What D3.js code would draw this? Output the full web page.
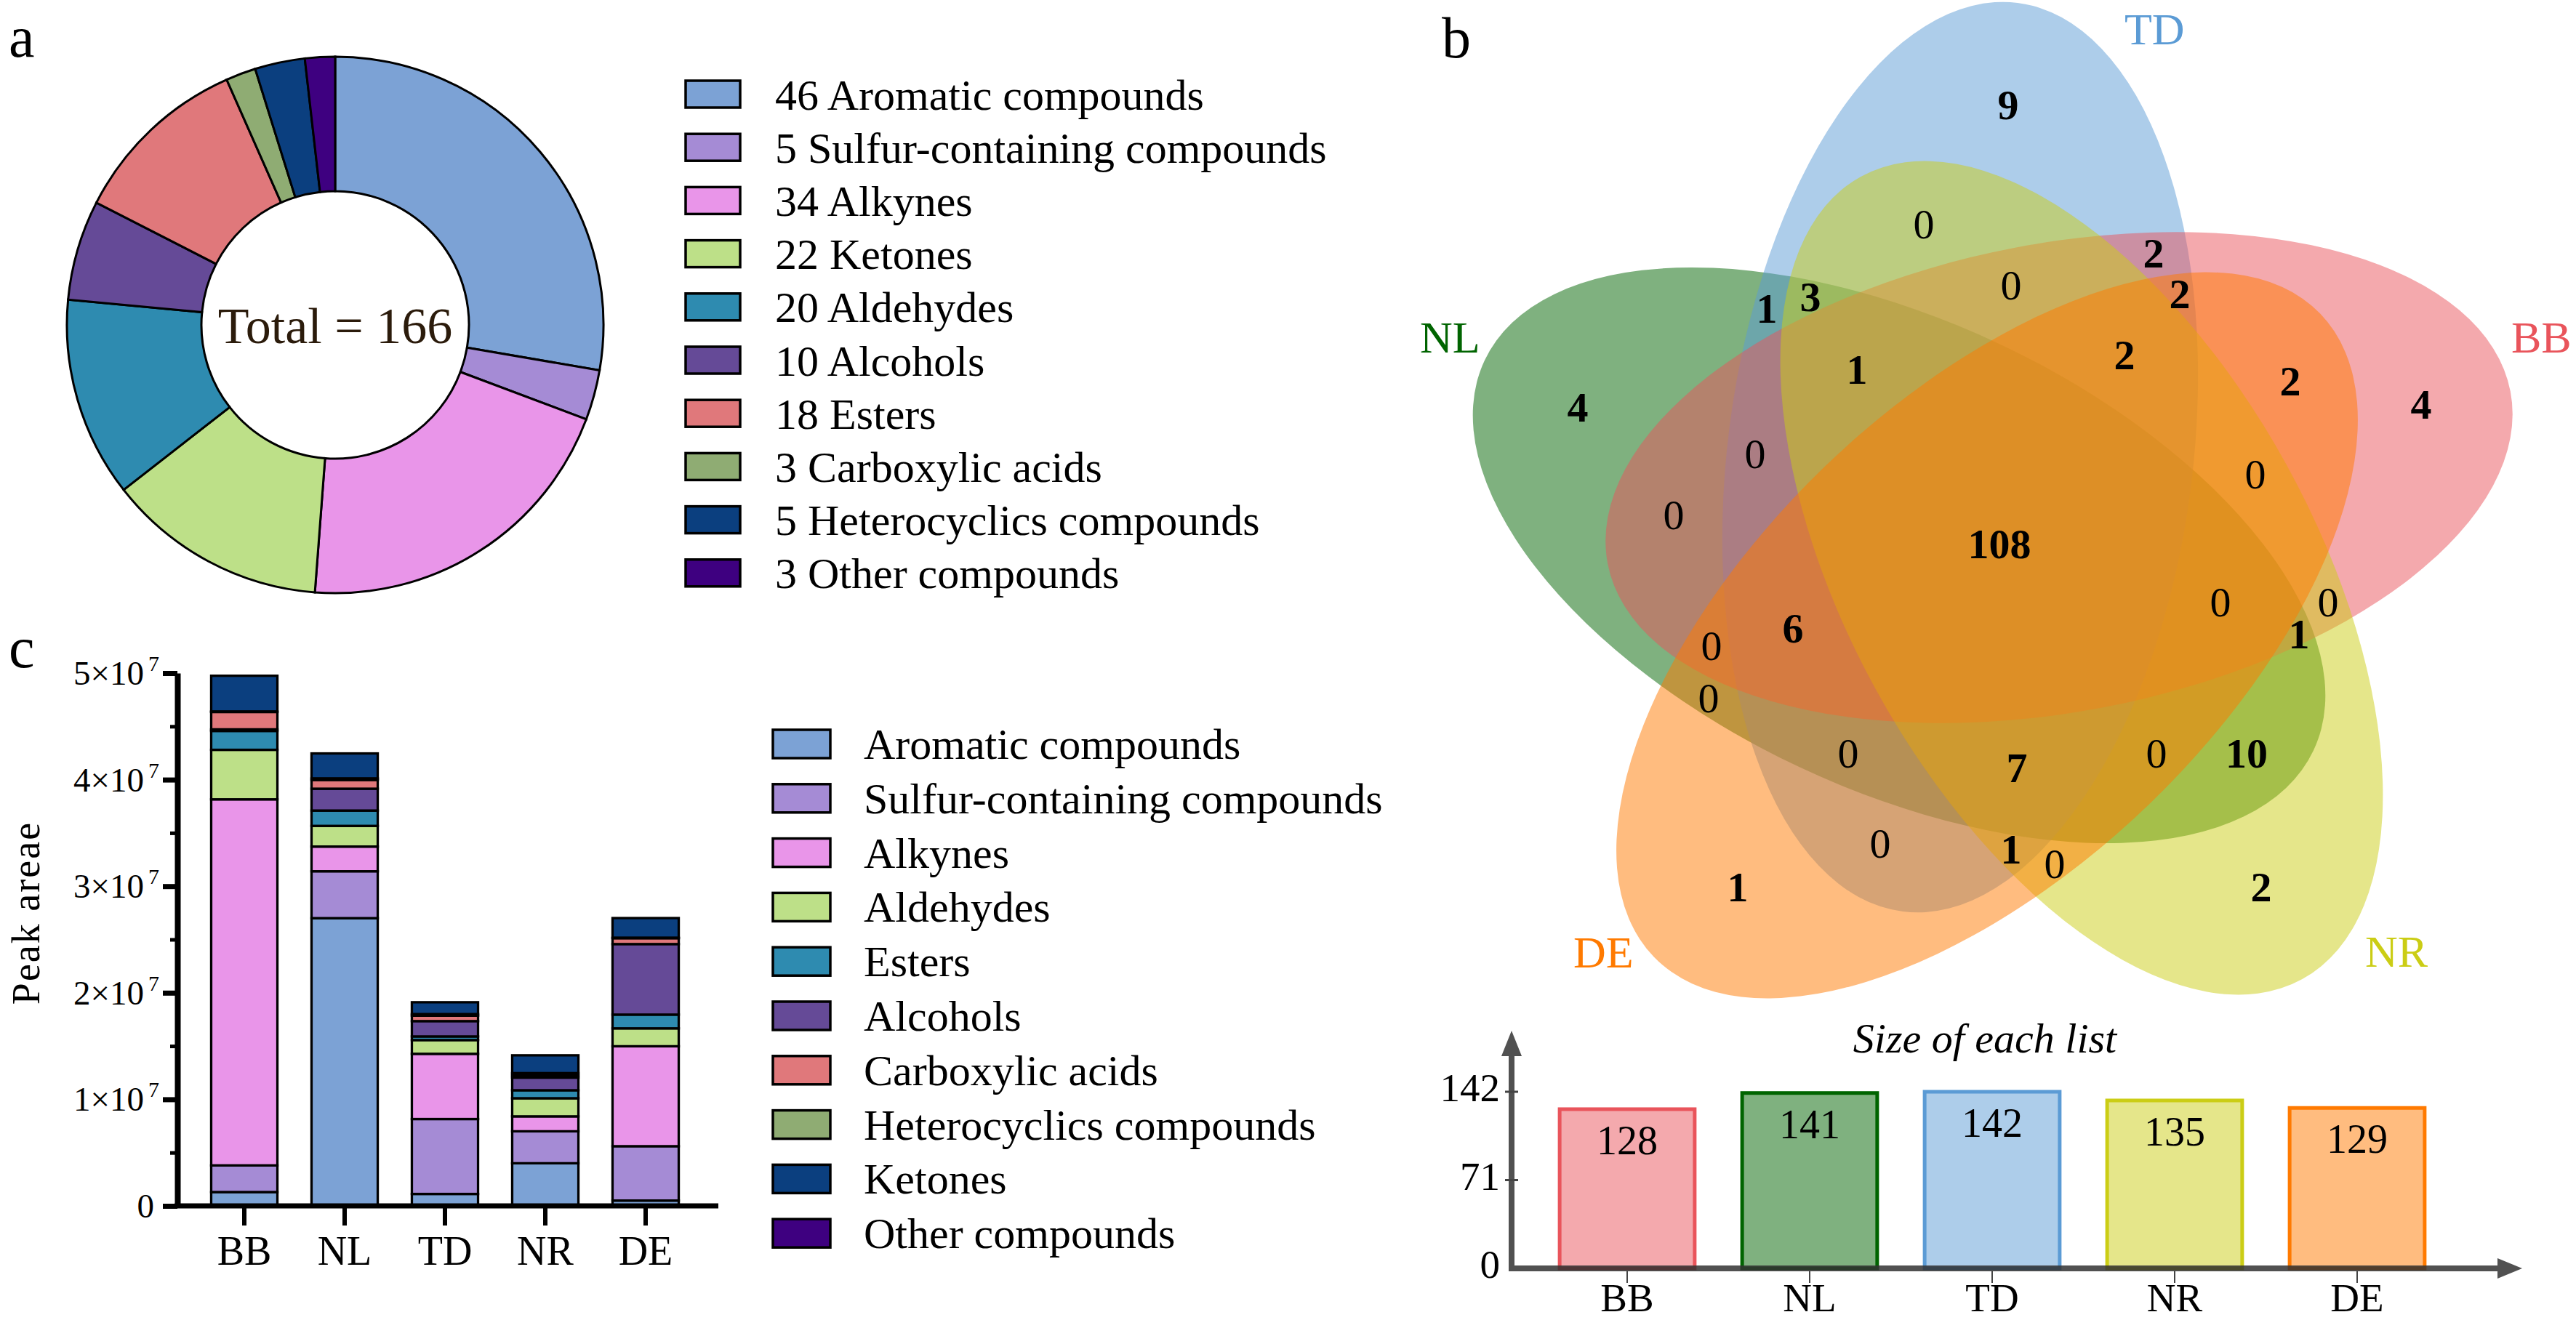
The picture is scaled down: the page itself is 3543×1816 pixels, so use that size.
<!DOCTYPE html>
<html lang="en">
<head>
<meta charset="UTF-8" />
<title>Volatile compounds</title>
<script src="https://d3js.org/d3.v7.min.js"></script>
<style>
  body { margin: 0; background: #fff; }
</style>
</head>
<body>
<div id="chart"></div>
<script>
const width = 3543, height = 1816;
const serif = "'Liberation Serif', 'Times New Roman', serif";

// shared class colours (same order in both legends)
const palette = ["#7ca2d5", "#a58bd5", "#e995e9", "#bde088", "#2e8bb0",
                 "#654a97", "#e0787b", "#8fac73", "#0b3f7f", "#3e0080"];

// panel a: number of compounds in each class
const classesA = ["Aromatic compounds", "Sulfur-containing compounds", "Alkynes", "Ketones",
                  "Aldehydes", "Alcohols", "Esters", "Carboxylic acids",
                  "Heterocyclics compounds", "Other compounds"];
const countsA = [46, 5, 34, 22, 20, 10, 18, 3, 5, 3];

// panel c: peak areas per sample, stacked in this class order
const samples = ["BB", "NL", "TD", "NR", "DE"];
const classesC = ["Aromatic compounds", "Sulfur-containing compounds", "Alkynes", "Aldehydes",
                  "Esters", "Alcohols", "Carboxylic acids", "Heterocyclics compounds",
                  "Ketones", "Other compounds"];
const peakBB = [0.13e7, 0.25e7, 3.435e7, 0.465e7, 0.177e7, 0.015e7, 0.163e7, 0.005e7, 0.335e7, 0];
const peakNL = [2.70e7, 0.44e7, 0.232e7, 0.194e7, 0.144e7, 0.205e7, 0.082e7, 0.015e7, 0.234e7, 0];
const peakTD = [0.112e7, 0.703e7, 0.612e7, 0.129e7, 0.034e7, 0.144e7, 0.051e7, 0.015e7, 0.111e7, 0];
const peakNR = [0.40e7, 0.30e7, 0.14e7, 0.17e7, 0.075e7, 0.119e7, 0.02e7, 0.022e7, 0.167e7, 0];
const peakDE = [0.05e7, 0.51e7, 0.938e7, 0.168e7, 0.129e7, 0.662e7, 0.055e7, 0.005e7, 0.184e7, 0];
const yTicksC = [0, 1e7, 2e7, 3e7, 4e7, 5e7];

// panel b: venn regions (sets joined in the order TD, BB, NR, DE, NL) and their counts
const vennOrder = ["TD", "BB", "NR", "DE", "NL"];
const regionKeys = ["TD", "TD&NR", "TD&BB&NR", "TD&BB", "TD&BB&DE", "TD&BB&NR&DE", "BB&DE", "BB",
                    "BB&NR&DE", "TD&BB&NR&DE&NL", "BB&NR", "BB&NR&NL", "BB&NR&DE&NL", "NR&NL",
                    "NR&DE&NL", "TD&NR&DE&NL", "TD&NR&DE", "NR&DE", "NR", "DE", "TD&DE",
                    "TD&DE&NL", "DE&NL", "BB&DE&NL", "TD&BB&DE&NL", "BB&NL", "TD&BB&NL", "NL",
                    "TD&NL", "TD&NR&NL", "TD&BB&NR&NL"];
const regionCounts = [9, 0, 0, 2, 2, 2, 2, 4, 0, 108, 0, 1, 0, 10, 0, 7, 1, 0, 2, 1, 0,
                      0, 0, 0, 6, 0, 0, 4, 1, 3, 1];
const listNames = ["BB", "NL", "TD", "NR", "DE"];
const listSizes = [128, 141, 142, 135, 129];
const listTicks = [0, 71, 142];

const setColors = { BB: "#e9545b", NL: "#006400", TD: "#5b9bd5", NR: "#cbcd15", DE: "#ff7a00" };

// ellipse layout of the five-set diagram
const geom = {
    TD: { cx: 2696, cy: 629, a: 630, b: 320, rot: -82.8 },
    BB: { cx: 2832, cy: 657, a: 632, b: 322, rot: -10.8 },
    NR: { cx: 2863, cy: 795, a: 630, b: 322, rot: 61.2 },
    DE: { cx: 2733, cy: 874, a: 637, b: 322, rot: 136 },
    NL: { cx: 2612, cy: 764, a: 630, b: 322, rot: 205.2 },
};
const drawOrder = ["NL", "TD", "BB", "NR", "DE"];
const setLabelPos = { TD: [2922, 61], BB: [3454, 485], NL: [1953, 485], DE: [2164, 1331], NR: [3253, 1330] };

const svg = d3.select("#chart").append("svg")
    .attr("width", width).attr("height", height)
    .attr("font-family", serif)
    .style("background", "#fff");

// panel letters
[["a", 12, 78], ["b", 1983, 79], ["c", 12, 918]].forEach(([t, x, y]) =>
    svg.append("text").attr("x", x).attr("y", y).attr("font-size", 80).text(t));

// ---------- panel a: donut ----------
const pie = d3.pie().sort(null);
const arc = d3.arc().innerRadius(184).outerRadius(369);
const gA = svg.append("g").attr("transform", "translate(461,447)");
gA.selectAll("path")
    .data(pie(countsA))
    .join("path")
    .attr("d", arc)
    .attr("fill", (d, i) => palette[i])
    .attr("stroke", "#000")
    .attr("stroke-width", 3);
gA.append("text")
    .attr("text-anchor", "middle")
    .attr("dy", "0.35em")
    .attr("font-size", 70)
    .attr("fill", "#2b1b0b")
    .text(`Total = ${d3.sum(countsA)}`);

const legA = svg.append("g");
legA.selectAll("rect")
    .data(countsA)
    .join("rect")
    .attr("x", 943)
    .attr("y", (d, i) => 111 + i * 73.2)
    .attr("width", 75)
    .attr("height", 37)
    .attr("fill", (d, i) => palette[i])
    .attr("stroke", "#000")
    .attr("stroke-width", 3.5);
legA.selectAll("text")
    .data(countsA)
    .join("text")
    .attr("x", 1066)
    .attr("y", (d, i) => 111 + i * 73.2 + 39.5)
    .attr("font-size", 60)
    .text((d, i) => `${d} ${classesA[i]}`);

// ---------- panel c: stacked bars ----------
const peakBySample = [peakBB, peakNL, peakTD, peakNR, peakDE];
const rows = samples.map((s, i) => {
    const o = { sample: s };
    classesC.forEach((c, j) => (o[c] = peakBySample[i][j]));
    return o;
});
const series = d3.stack().keys(classesC)(rows);

const xC = d3.scaleBand().domain(samples).range([267, 957]).paddingInner(0.34).paddingOuter(0.17);
const yC = d3.scaleLinear().domain([0, 5e7]).range([1659, 926]);

const gC = svg.append("g");
gC.selectAll("g.layer")
    .data(series)
    .join("g")
    .attr("class", "layer")
    .attr("fill", (d, i) => palette[i])
    .selectAll("rect")
    .data(d => d.filter(p => p[1] - p[0] > 0))
    .join("rect")
    .attr("x", d => xC(d.data.sample))
    .attr("width", xC.bandwidth())
    .attr("y", d => yC(d[1]))
    .attr("height", d => yC(d[0]) - yC(d[1]))
    .attr("stroke", "#000")
    .attr("stroke-width", 3.3);

// y axis with major and minor ticks
const axisX = 244;
svg.append("g")
    .attr("transform", `translate(${axisX},0)`)
    .call(d3.axisLeft(yC).tickValues(d3.range(0.5e7, 5e7, 1e7)).tickSize(10).tickSizeOuter(0).tickFormat(""))
    .call(g => g.select(".domain").remove())
    .call(g => g.selectAll(".tick line").attr("stroke", "#000").attr("stroke-width", 5));
svg.append("g")
    .attr("transform", `translate(${axisX},0)`)
    .call(d3.axisLeft(yC).tickValues(yTicksC).tickSize(20).tickSizeOuter(0).tickFormat(""))
    .call(g => g.select(".domain").attr("stroke", "#000").attr("stroke-width", 8))
    .call(g => g.selectAll(".tick line").attr("stroke", "#000").attr("stroke-width", 7));

const yLab = svg.append("g");
yTicksC.forEach(v => {
    const t = yLab.append("text")
        .attr("x", v === 0 ? 212 : 219)
        .attr("y", yC(v) + 16)
        .attr("text-anchor", "end")
        .attr("font-size", 47);
    if (v === 0) {
        t.text("0");
    } else {
        t.append("tspan").text(`${v / 1e7}×10`);
        t.append("tspan").attr("dx", 6).attr("dy", -19).attr("font-size", 30).text("7");
    }
});

// x axis
svg.append("line")
    .attr("x1", axisX - 4).attr("x2", 988)
    .attr("y1", yC(0)).attr("y2", yC(0))
    .attr("stroke", "#000").attr("stroke-width", 7);
svg.append("g")
    .attr("transform", `translate(0,${yC(0)})`)
    .call(d3.axisBottom(xC).tickSize(27).tickSizeOuter(0).tickFormat(""))
    .call(g => g.select(".domain").remove())
    .call(g => g.selectAll(".tick line").attr("stroke", "#000").attr("stroke-width", 6));
svg.append("g")
    .selectAll("text")
    .data(samples)
    .join("text")
    .attr("x", d => xC(d) + xC.bandwidth() / 2)
    .attr("y", 1740)
    .attr("text-anchor", "middle")
    .attr("font-size", 56)
    .text(d => d);

svg.append("text")
    .attr("transform", "translate(54,1256) rotate(-90)")
    .attr("text-anchor", "middle")
    .attr("font-size", 54)
    .attr("letter-spacing", 2)
    .text("Peak areae");

const legC = svg.append("g");
legC.selectAll("rect")
    .data(classesC)
    .join("rect")
    .attr("x", 1063)
    .attr("y", (d, i) => 1004 + i * 74.8)
    .attr("width", 79)
    .attr("height", 39)
    .attr("fill", (d, i) => palette[i])
    .attr("stroke", "#000")
    .attr("stroke-width", 3.5);
legC.selectAll("text")
    .data(classesC)
    .join("text")
    .attr("x", 1188)
    .attr("y", (d, i) => 1004 + i * 74.8 + 40)
    .attr("font-size", 60)
    .text(d => d);

// ---------- panel b: five-set venn ----------
const gV = svg.append("g");
gV.selectAll("ellipse")
    .data(drawOrder)
    .join("ellipse")
    .attr("rx", k => geom[k].a)
    .attr("ry", k => geom[k].b)
    .attr("transform", k => `translate(${geom[k].cx},${geom[k].cy}) rotate(${geom[k].rot})`)
    .attr("fill", k => setColors[k])
    .attr("fill-opacity", 0.5);

// membership test and approximate distance to the ellipse edge
function ellipseTest(e, x, y) {
    const t = (e.rot * Math.PI) / 180, c = Math.cos(t), s = Math.sin(t);
    const dx = x - e.cx, dy = y - e.cy;
    const u = dx * c + dy * s, v = -dx * s + dy * c;
    const g = Math.sqrt((u * u) / (e.a * e.a) + (v * v) / (e.b * e.b));
    const grad = Math.hypot(u / (e.a * e.a), v / (e.b * e.b)) / Math.max(g, 1e-9);
    return { inside: g < 1, dist: Math.abs(g - 1) / Math.max(grad, 1e-9) };
}

// sample every region, then pick a deep point close to its centroid for the label
const regions = new Map();
for (let x = 1990; x <= 3530; x += 4) {
    for (let y = 0; y <= 1440; y += 4) {
        const key = [];
        let depth = Infinity;
        vennOrder.forEach(k => {
            const r = ellipseTest(geom[k], x, y);
            if (r.inside) key.push(k);
            depth = Math.min(depth, r.dist);
        });
        if (!key.length) continue;
        const id = key.join("&");
        if (!regions.has(id)) regions.set(id, []);
        regions.get(id).push({ x, y, depth });
    }
}
const labelPos = new Map();
regions.forEach((pts, id) => {
    const mx = d3.mean(pts, p => p.x), my = d3.mean(pts, p => p.y);
    const maxDepth = d3.max(pts, p => p.depth);
    const deep = pts.filter(p => p.depth >= 0.8 * maxDepth);
    labelPos.set(id, d3.least(deep, p => Math.hypot(p.x - mx, p.y - my)));
});

gV.selectAll("text.count")
    .data(regionKeys.map((k, i) => ({ key: k, n: regionCounts[i], pos: labelPos.get(k) })).filter(d => d.pos))
    .join("text")
    .attr("class", "count")
    .attr("x", d => d.pos.x)
    .attr("y", d => d.pos.y)
    .attr("dy", "0.35em")
    .attr("text-anchor", "middle")
    .attr("font-size", 58)
    .attr("font-weight", d => (d.n > 0 ? "bold" : "normal"))
    .text(d => d.n);

gV.selectAll("text.setname")
    .data(vennOrder)
    .join("text")
    .attr("class", "setname")
    .attr("x", k => setLabelPos[k][0])
    .attr("y", k => setLabelPos[k][1])
    .attr("font-size", 62)
    .attr("fill", k => setColors[k])
    .text(k => k);

// ---------- panel b: size of each list ----------
const xL = d3.scaleBand().domain(listNames).range([2112.5, 3367.5]).paddingInner(0.26).paddingOuter(0.13);
const yL = d3.scaleLinear().domain([0, 142]).range([1745, 1502]);
const axisLX = 2079;

svg.append("text")
    .attr("x", 2730)
    .attr("y", 1448)
    .attr("text-anchor", "middle")
    .attr("font-size", 58)
    .attr("font-style", "italic")
    .text("Size of each list");

const gL = svg.append("g");
gL.selectAll("rect")
    .data(listSizes)
    .join("rect")
    .attr("x", (d, i) => xL(listNames[i]))
    .attr("width", xL.bandwidth())
    .attr("y", d => yL(d))
    .attr("height", d => yL(0) - yL(d))
    .attr("fill", (d, i) => setColors[listNames[i]])
    .attr("fill-opacity", 0.5)
    .attr("stroke", (d, i) => setColors[listNames[i]])
    .attr("stroke-width", 5);
gL.selectAll("text")
    .data(listSizes)
    .join("text")
    .attr("x", (d, i) => xL(listNames[i]) + xL.bandwidth() / 2)
    .attr("y", d => yL(d) + 62)
    .attr("text-anchor", "middle")
    .attr("font-size", 56)
    .text(d => d);

const axL = svg.append("g").attr("opacity", 0.85);
axL.append("line")
    .attr("x1", axisLX).attr("x2", axisLX)
    .attr("y1", yL(0) + 4).attr("y2", 1450)
    .attr("stroke", "#333").attr("stroke-width", 8);
axL.append("path")
    .attr("d", `M${axisLX - 14},1453L${axisLX + 14},1453L${axisLX},1418Z`)
    .attr("fill", "#333");
axL.append("line")
    .attr("x1", axisLX - 4).attr("x2", 3437)
    .attr("y1", yL(0)).attr("y2", yL(0))
    .attr("stroke", "#333").attr("stroke-width", 8);
axL.append("path")
    .attr("d", `M3435,${yL(0) - 14}L3435,${yL(0) + 14}L3469,${yL(0)}Z`)
    .attr("fill", "#333");

svg.append("g")
    .selectAll("line")
    .data(listTicks.slice(1))
    .join("line")
    .attr("x1", axisLX - 9).attr("x2", axisLX + 9)
    .attr("y1", d => yL(d)).attr("y2", d => yL(d))
    .attr("stroke", "#444").attr("stroke-width", 3);
svg.append("g")
    .selectAll("text")
    .data(listTicks)
    .join("text")
    .attr("x", axisLX - 16)
    .attr("y", d => yL(d) - 6)
    .attr("dy", "0.35em")
    .attr("text-anchor", "end")
    .attr("font-size", 55)
    .text(d => d);

svg.append("g")
    .attr("transform", `translate(0,${yL(0) + 4})`)
    .call(d3.axisBottom(xL).tickSize(16).tickSizeOuter(0).tickFormat(""))
    .call(g => g.select(".domain").remove())
    .call(g => g.selectAll(".tick line").attr("stroke", "#444").attr("stroke-width", 2));
svg.append("g")
    .selectAll("text")
    .data(listNames)
    .join("text")
    .attr("x", d => xL(d) + xL.bandwidth() / 2)
    .attr("y", 1804)
    .attr("text-anchor", "middle")
    .attr("font-size", 55)
    .text(d => d);
</script>
</body>
</html>
